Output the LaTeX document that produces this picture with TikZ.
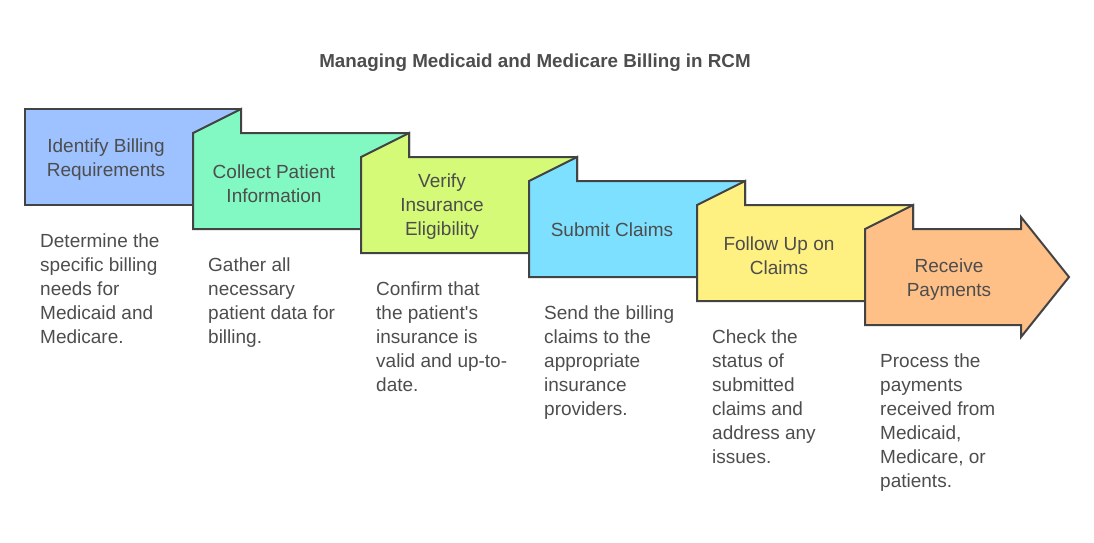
\documentclass[tikz,border=0pt]{standalone}
\usepackage{fontspec}
\setmainfont{Liberation Sans}
\usepackage{xcolor}
\usetikzlibrary{math}
\definecolor{stepblue}{RGB}{158,194,255}
\definecolor{stepgreen}{RGB}{130,249,194}
\definecolor{steplime}{RGB}{212,250,120}
\definecolor{stepcyan}{RGB}{126,224,255}
\definecolor{stepyellow}{RGB}{255,240,130}
\definecolor{steporange}{RGB}{255,192,136}
\definecolor{inkgray}{RGB}{67,67,67}
\definecolor{textgray}{RGB}{77,77,77}

\tikzset{
stepshape/.style={draw=inkgray,line width=2pt,line join=miter},
steplabel/.style={align=center,text=textgray,inner sep=0pt,font=\fontsize{19}{24}\selectfont},
stepdesc/.style={align=left,anchor=north west,text=textgray,inner sep=0pt,font=\fontsize{19}{24}\selectfont},
}

\begin{document}
\begin{tikzpicture}[x=1pt,y=-1pt]
\tikzmath{
\w=216; \h=96;
}
\useasboundingbox (0,0) rectangle (1094,542);

\node[text=textgray,font=\bfseries\fontsize{18.8}{22}\selectfont] (title) at (535,63) {Managing Medicaid and Medicare Billing in RCM};

\begin{scope}[shift={(25,109)}]
\draw[stepshape,fill=stepblue] (0,0) rectangle (\w,\h);
\node[steplabel] (identify) at (81,51) {Identify Billing\\Requirements};
\node[stepdesc] (identifydesc) at (15,\h+29) {Determine the\\specific billing\\needs for\\Medicaid and\\Medicare.};
\end{scope}

\begin{scope}[shift={(193,133)}]
\draw[stepshape,fill=stepgreen] (0,\h) -- (0,0) -- (48,-24) -- (48,0) -- (\w,0) -- (\w,\h) -- cycle;
\node[steplabel] (collect) at (81,51) {Collect Patient\\Information};
\node[stepdesc] (collectdesc) at (15,\h+29) {Gather all\\necessary\\patient data for\\billing.};
\end{scope}

\begin{scope}[shift={(361,157)}]
\draw[stepshape,fill=steplime] (0,\h) -- (0,0) -- (48,-24) -- (48,0) -- (\w,0) -- (\w,\h) -- cycle;
\node[steplabel] (verify) at (81,50) {Verify\\Insurance\\Eligibility};
\node[stepdesc] (verifydesc) at (15,\h+29) {Confirm that\\the patient\textquotesingle s\\insurance is\\valid and up-to-\\date.};
\end{scope}

\begin{scope}[shift={(529,181)}]
\draw[stepshape,fill=stepcyan] (0,\h) -- (0,0) -- (48,-24) -- (48,0) -- (\w,0) -- (\w,\h) -- cycle;
\node[steplabel] (submit) at (83,49) {Submit Claims};
\node[stepdesc] (submitdesc) at (15,\h+29) {Send the billing\\claims to the\\appropriate\\insurance\\providers.};
\end{scope}

\begin{scope}[shift={(697,205)}]
\draw[stepshape,fill=stepyellow] (0,\h) -- (0,0) -- (48,-24) -- (48,0) -- (\w,0) -- (\w,\h) -- cycle;
\node[steplabel] (follow) at (82,51) {Follow Up on\\Claims};
\node[stepdesc] (followdesc) at (15,\h+29) {Check the\\status of\\submitted\\claims and\\address any\\issues.};
\end{scope}

% last step ends in the arrow head
\begin{scope}[shift={(865,229)}]
\draw[stepshape,fill=steporange] (0,\h) -- (0,0) -- (48,-24) -- (48,0) -- (156,0) -- (156,-12) -- (204,48) -- (156,108) -- (156,\h) -- cycle;
\node[steplabel] (receive) at (84,51) {Receive\\Payments};
\node[stepdesc] (receivedesc) at (15,\h+29) {Process the\\payments\\received from\\Medicaid,\\Medicare, or\\patients.};
\end{scope}

\end{tikzpicture}
\end{document}
